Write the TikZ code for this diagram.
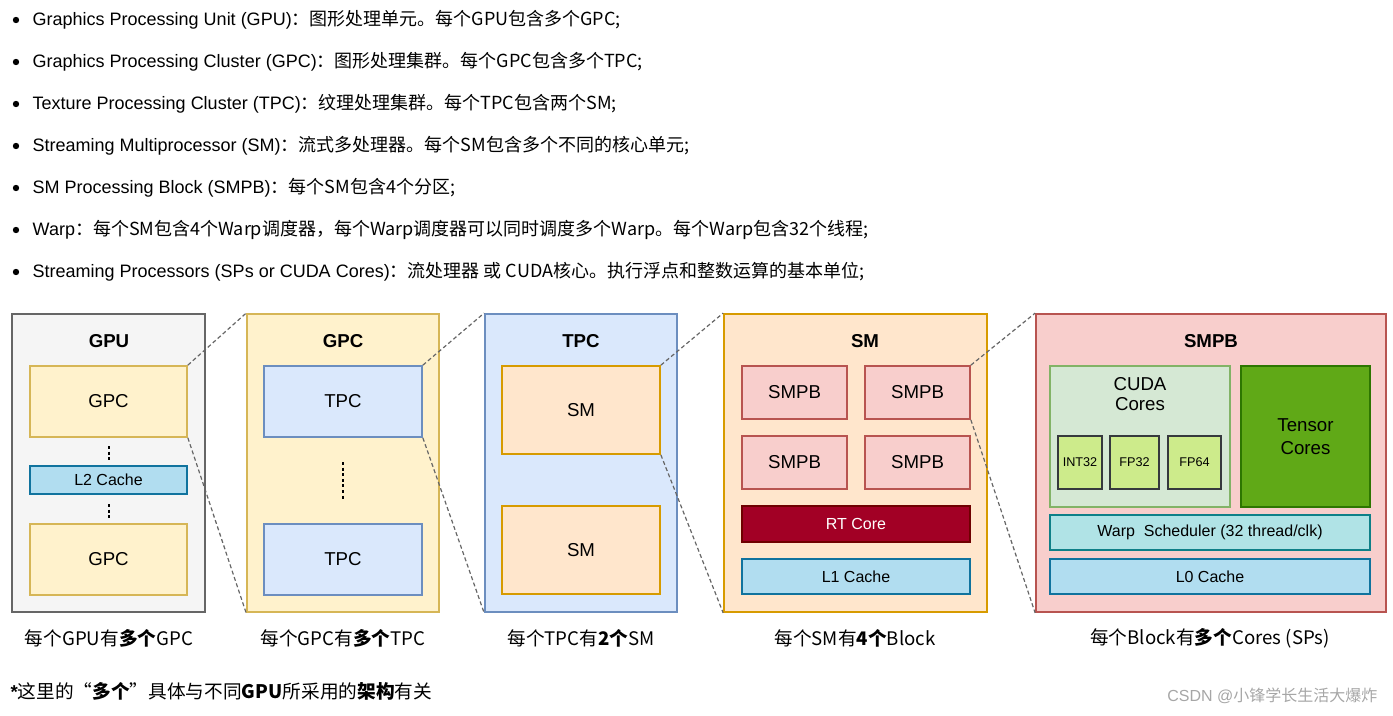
\documentclass[tikz,border=0pt]{standalone}
\usepackage{fontspec}
\setmainfont{Liberation Sans}
\newfontfamily\cjk{Noto Sans CJK SC}
\usetikzlibrary{positioning,calc}
\definecolor{gpuF}{HTML}{F5F5F5}\definecolor{gpuD}{HTML}{666666}
\definecolor{yelF}{HTML}{FFF2CC}\definecolor{yelD}{HTML}{D6B656}
\definecolor{bluF}{HTML}{DAE8FC}\definecolor{bluD}{HTML}{6C8EBF}
\definecolor{orgF}{HTML}{FFE6CC}\definecolor{orgD}{HTML}{D79B00}
\definecolor{redF}{HTML}{F8CECC}\definecolor{redD}{HTML}{B85450}
\definecolor{grnF}{HTML}{D5E8D4}\definecolor{grnD}{HTML}{82B366}
\definecolor{tenF}{HTML}{60A917}\definecolor{tenD}{HTML}{2D7600}
\definecolor{limF}{HTML}{CDEB8B}\definecolor{limD}{HTML}{36393D}
\definecolor{cacF}{HTML}{B1DDF0}\definecolor{cacD}{HTML}{10739E}
\definecolor{wrpF}{HTML}{B0E3E6}\definecolor{wrpD}{HTML}{0E8088}
\definecolor{rtF}{HTML}{A20025}\definecolor{rtD}{HTML}{6F0000}
\begin{document}
\begin{tikzpicture}[x=0.75pt,y=-0.75pt,
    bx/.style={draw,line width=1.3pt,inner sep=0pt},
    sz/.style 2 args={minimum width=#1*0.75pt,minimum height=#2*0.75pt},
    ttl/.style={font=\fontsize{14}{16}\selectfont\bfseries},
    lbl/.style={font=\fontsize{14}{16}\selectfont},
    zoom/.style={draw=gpuD,densely dashed,line width=0.9pt},
    dots/.style={draw=black,line width=1.6pt,dash pattern=on 2.2pt off 2pt},
    item/.style={anchor=west,font=\fontsize{13.5}{16}\selectfont},
    capt/.style={font=\fontsize{14}{16}\selectfont},
  ]
\useasboundingbox (0,0) rectangle (1393,715);
% bullet list
\foreach \t [count=\i] in {
  {Graphics Processing Unit (GPU)\cjk{：图形处理单元。每个}GPU\cjk{包含多个}GPC;},
  {Graphics Processing Cluster (GPC)\cjk{：图形处理集群。每个}GPC\cjk{包含多个}TPC;},
  {Texture Processing Cluster (TPC)\cjk{：纹理处理集群。每个}TPC\cjk{包含两个}SM;},
  {Streaming Multiprocessor (SM)\cjk{：流式多处理器。每个}SM\cjk{包含多个不同的核心单元};},
  {SM Processing Block (SMPB)\cjk{：每个}SM\cjk{包含}4\cjk{个分区};},
  {Warp\cjk{：每个}SM\cjk{包含}4\cjk{个}Warp\cjk{调度器，每个}Warp\cjk{调度器可以同时调度多个}Warp\cjk{。每个}Warp\cjk{包含}32\cjk{个线程};},
  {Streaming Processors (SPs or CUDA Cores)\cjk{：流处理器 或 }CUDA\cjk{核心。执行浮点和整数运算的基本单位};}}
{
  \fill (16,{20+42*(\i-1)}) circle (3.2);
  \node[item] (it\i) at (28,{20+42*(\i-1)}) {\t};
}
% panels
\node[bx,draw=gpuD,fill=gpuF,sz={193}{298}] (gpu) at (108.5,463) {};
\node[bx,draw=yelD,fill=yelF,sz={192}{298}] (gpc) at (343,463) {};
\node[bx,draw=bluD,fill=bluF,sz={192}{298}] (tpc) at (581,463) {};
\node[bx,draw=orgD,fill=orgF,sz={263}{298}] (sm) at (855.5,463) {};
\node[bx,draw=redD,fill=redF,sz={350}{298}] (smpb) at (1211,463) {};
\node[ttl] (tgpu) at (109,341) {GPU};
\node[ttl] (tgpc) at (343,341) {GPC};
\node[ttl] (ttpc) at (581,341) {TPC};
\node[ttl] (tsm) at (865,341) {SM};
\node[ttl] (tsmpb) at (1211,341) {SMPB};
% GPU contents
\node[bx,draw=yelD,fill=yelF,sz={157}{71},lbl] (gpc1) at (108.5,401.5) {GPC};
\node[bx,draw=cacD,fill=cacF,sz={157}{28},font=\fontsize{12}{14}\selectfont] (l2) at (108.5,480) {L2 Cache};
\node[bx,draw=yelD,fill=yelF,sz={157}{71},lbl] (gpc2) at (108.5,559.5) {GPC};
\coordinate (d1a) at (109,446); \coordinate (d1b) at (109,462);
\coordinate (d2a) at (109,504); \coordinate (d2b) at (109,520);
\draw[dots] (d1a) -- (d1b); \draw[dots] (d2a) -- (d2b);
% GPC contents
\node[bx,draw=bluD,fill=bluF,sz={158}{71},lbl] (tpc1) at (343,401.5) {TPC};
\node[bx,draw=bluD,fill=bluF,sz={158}{71},lbl] (tpc2) at (343,559.5) {TPC};
\coordinate (d3a) at (343,462); \coordinate (d3b) at (343,500);
\draw[dots] (d3a) -- (d3b);
% TPC contents
\node[bx,draw=orgD,fill=orgF,sz={158}{88},lbl] (sm1) at (581,410) {SM};
\node[bx,draw=orgD,fill=orgF,sz={158}{88},lbl] (sm2) at (581,550) {SM};
% SM contents
\node[bx,draw=redD,fill=redF,sz={105}{53},lbl] (p1) at (794.5,392.5) {SMPB};
\node[bx,draw=redD,fill=redF,sz={105}{53},lbl] (p2) at (917.5,392.5) {SMPB};
\node[bx,draw=redD,fill=redF,sz={105}{53},lbl] (p3) at (794.5,462.5) {SMPB};
\node[bx,draw=redD,fill=redF,sz={105}{53},lbl] (p4) at (917.5,462.5) {SMPB};
\node[bx,draw=rtD,fill=rtF,text=white,sz={228}{36},font=\fontsize{12}{14}\selectfont] (rt) at (856,524) {RT Core};
\node[bx,draw=cacD,fill=cacF,sz={228}{35},font=\fontsize{12}{14}\selectfont] (l1) at (856,576.5) {L1 Cache};
% SMPB contents
\node[bx,draw=grnD,fill=grnF,sz={180}{141}] (cuda) at (1140,436.5) {};
\node[lbl,align=center] (cudat) at (1140,394) {CUDA\\[-1pt]Cores};
\node[bx,draw=limD,fill=limF,sz={44}{53},font=\fontsize{9.5}{11}\selectfont] (int) at (1080,462.5) {INT32};
\node[bx,draw=limD,fill=limF,sz={49}{53},font=\fontsize{9.5}{11}\selectfont] (fp32) at (1134.5,462.5) {FP32};
\node[bx,draw=limD,fill=limF,sz={53}{53},font=\fontsize{9.5}{11}\selectfont] (fp64) at (1194.5,462.5) {FP64};
\node[bx,draw=tenD,fill=tenF,sz={129}{141},lbl,align=center] (ten) at (1305.5,436.5) {Tensor\\[1pt]Cores};
\node[bx,draw=wrpD,fill=wrpF,sz={320}{35},font=\fontsize{12}{14}\selectfont] (warp) at (1210,532.5) {Warp\ \ Scheduler (32 thread/clk)};
\node[bx,draw=cacD,fill=cacF,sz={320}{35},font=\fontsize{12}{14}\selectfont] (l0) at (1210,576.5) {L0 Cache};
% zoom lines
\draw[zoom] (gpc1.north east) -- (gpc.north west);
\draw[zoom] (gpc1.south east) -- (gpc.south west);
\draw[zoom] (tpc1.north east) -- (tpc.north west);
\draw[zoom] (tpc1.south east) -- (tpc.south west);
\draw[zoom] (sm1.north east) -- (sm.north west);
\draw[zoom] (sm1.south east) -- (sm.south west);
\draw[zoom] (p2.north east) -- (smpb.north west);
\draw[zoom] (p2.south east) -- (smpb.south west);
% captions
\node[capt] (c1) at (109,638) {\cjk{每个}GPU\cjk{有\bfseries 多个}GPC};
\node[capt] (c2) at (343,638) {\cjk{每个}GPC\cjk{有\bfseries 多个}TPC};
\node[capt] (c3) at (581,638) {\cjk{每个}TPC\cjk{有}\textbf{2\cjk{个}}SM};
\node[capt] (c4) at (855,638) {\cjk{每个}SM\cjk{有}\textbf{4\cjk{个}}Block};
\node[capt] (c5) at (1210,638) {\cjk{每个}Block\cjk{有\bfseries 多个}Cores (SPs)};
\node[capt,anchor=west] (note) at (6,691) {\textbf{*}\cjk{这里的“\textbf{多个}”具体与不同}\textbf{GPU}\cjk{所采用的\textbf{架构}有关}};
\node[anchor=east,text=gray!70,font=\fontsize{12}{14}\selectfont] (wm) at (1382,696) {CSDN @\cjk{小锋学长生活大爆炸}};
\end{tikzpicture}
\end{document}
